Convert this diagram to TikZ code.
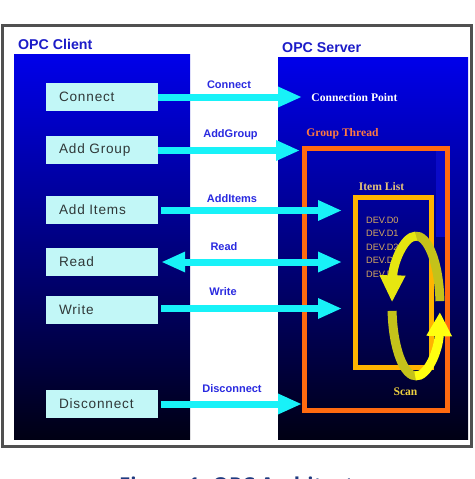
\documentclass[tikz,border=0pt]{standalone}
\usepackage{fontspec}
\usetikzlibrary{arrows.meta}
\newfontfamily\sfb{Liberation Sans}
\newfontfamily\boxfont{Liberation Sans}[LetterSpace=6]
\newfontfamily\srf{Liberation Serif}
\newfontfamily\capfont{Open Sans}
\definecolor{boxfill}{HTML}{C2F7F7}
\definecolor{boxtext}{HTML}{303838}
\definecolor{arrowcyan}{HTML}{18F2F8}
\definecolor{labelblue}{HTML}{2A2AE0}
\definecolor{titleblue}{HTML}{1C1CC8}
\definecolor{panelTop}{HTML}{0000EA}
\definecolor{panelBot}{HTML}{000014}
\definecolor{thread}{HTML}{FF6A10}
\definecolor{threadtext}{HTML}{FF7A40}
\definecolor{gold}{HTML}{FFB400}
\definecolor{itemtext}{HTML}{E4C27A}
\definecolor{devtext}{HTML}{D4A860}
\definecolor{ringY}{HTML}{FFFF10}
\definecolor{ringY2}{HTML}{E6E610}
\definecolor{ringO}{HTML}{C4C21A}
\definecolor{scantext}{HTML}{ECD040}
\definecolor{capblue}{HTML}{1F3A80}
\definecolor{framegray}{HTML}{505050}
\definecolor{patchblue}{HTML}{0A0AC8}
\begin{document}
\begin{tikzpicture}[x=1pt,y=-1pt,
  cbox/.style={draw=none, fill=boxfill, minimum height=28pt, inner ysep=0pt,
    inner xsep=13pt, text width=86pt, align=left,
    font=\boxfont\fontsize{13.6}{15}\selectfont, text=boxtext},
  flow/.style={draw=arrowcyan, line width=7pt, -{Triangle[length=24pt,width=19pt]}},
  flowboth/.style={draw=arrowcyan, line width=7pt,
    {Triangle[length=24pt,width=19pt]}-{Triangle[length=24pt,width=19pt]}},
  alab/.style={font=\sfb\bfseries\fontsize{11}{13}\selectfont, text=labelblue, inner sep=0pt},
  ptitle/.style={font=\sfb\bfseries\fontsize{14.2}{16}\selectfont, text=titleblue, inner sep=0pt, anchor=west},
  serifb/.style={font=\srf\bfseries\fontsize{11.6}{13}\selectfont, inner sep=0pt},
  devlab/.style={font=\sfb\fontsize{9.2}{11}\selectfont, text=devtext, inner sep=0pt, anchor=west},
  ring/.style={line width=9pt},
]
\useasboundingbox (0,0) rectangle (474,479);
\fill[white] (0,0) rectangle (474,479);
% outer frame
\draw[line width=2.2pt, draw=framegray] (2.5,25.5) rectangle (471.5,446.5);
% panels
\shade[top color=panelTop, bottom color=panelBot] (14,54) rectangle (190,439);
\shade[top color=panelTop, bottom color=panelBot] (278,57) rectangle (468,439);
\fill[patchblue] (436,150) rectangle (447,237);
% titles
\node[ptitle] (tclient) at (18,44) {OPC Client};
\node[ptitle] (tserver) at (282,48) {OPC Server};
% client boxes
\node[cbox] (conn) at (102,97) {Connect};
\node[cbox] (addg) at (102,149.5) {Add Group};
\node[cbox] (addi) at (102,209.5) {Add Items};
\node[cbox] (read) at (102,262) {Read};
\node[cbox] (write) at (102,309.5) {Write};
\node[cbox] (disc) at (102,403.5) {Disconnect};
% server side
\node[serifb, text=white] (cpn) at (354.5,98) {Connection Point};
\node[serifb, text=threadtext] (gtn) at (342.5,134) {Group Thread};
\draw[thread, line width=5pt] (304.5,148.5) rectangle (447.5,410.5);
\node[serifb, text=itemtext] (iln) at (381.5,187) {Item List};
\draw[gold, line width=5pt] (355.5,197.5) rectangle (431.5,367.5);
\node[devlab] (d0) at (366,220) {DEV.D0};
\node[devlab] (d1) at (366,233.5) {DEV.D1};
\node[devlab] (d2) at (366,247) {DEV.D2};
\node[devlab] (d3) at (366,260.5) {DEV.D3};
\node[devlab] (d4) at (366,274) {DEV.D4};
% scan ring
\coordinate (rc) at (416,306);
\draw[ring, ringO] ([shift={(4:24pt and 70pt)}]rc) arc[start angle=4, end angle=93, x radius=24pt, y radius=70pt];
\draw[ring, ringY2, -{Triangle[length=27pt,width=24pt]}] ([shift={(90:24pt and 70pt)}]rc) arc[start angle=90, end angle=177, x radius=24pt, y radius=70pt];
\draw[ring, ringO] ([shift={(184:24pt and 70pt)}]rc) arc[start angle=184, end angle=272, x radius=24pt, y radius=70pt];
\draw[ring, ringY, -{Triangle[length=24pt,width=24pt]}] ([shift={(268:24pt and 70pt)}]rc) arc[start angle=268, end angle=355, x radius=24pt, y radius=70pt];
\node[serifb, text=scantext] (scan) at (405.5,392) {Scan};
% arrow end points
\coordinate (eConn) at (302,97);
\coordinate (eGroup) at (300,150.5);
\coordinate (eItems) at (342,210.5);
\coordinate (eRead) at (342,262);
\coordinate (eWrite) at (342,308.5);
\coordinate (eDisc) at (302,404);
% arrows
\draw[flow] (conn.east) -- (eConn);
\draw[flow] ([yshift=-1pt]addg.east) -- (eGroup);
\draw[flow] ([xshift=3pt,yshift=-1pt]addi.east) -- (eItems);
\draw[flowboth] ([xshift=3pt]read.east) -- (eRead);
\draw[flow] ([xshift=3pt,yshift=1pt]write.east) -- (eWrite);
\draw[flow] ([xshift=3pt,yshift=-0.5pt]disc.east) -- (eDisc);
% arrow labels
\node[alab] (lconn) at (229,85) {Connect};
\node[alab] (lgroup) at (230.5,134.5) {AddGroup};
\node[alab] (litems) at (232,199) {AddItems};
\node[alab] (lread) at (224,247) {Read};
\node[alab] (lwrite) at (223,292) {Write};
\node[alab] (ldisc) at (232,389) {Disconnect};
% caption (cut by the page edge, as in the reference)
\node[anchor=base west, inner sep=0pt, font=\capfont\bfseries\fontsize{20.5}{24}\selectfont, text=capblue] (cap) at (119,492) {Figure 1: OPC Architecture};
\end{tikzpicture}
\end{document}
